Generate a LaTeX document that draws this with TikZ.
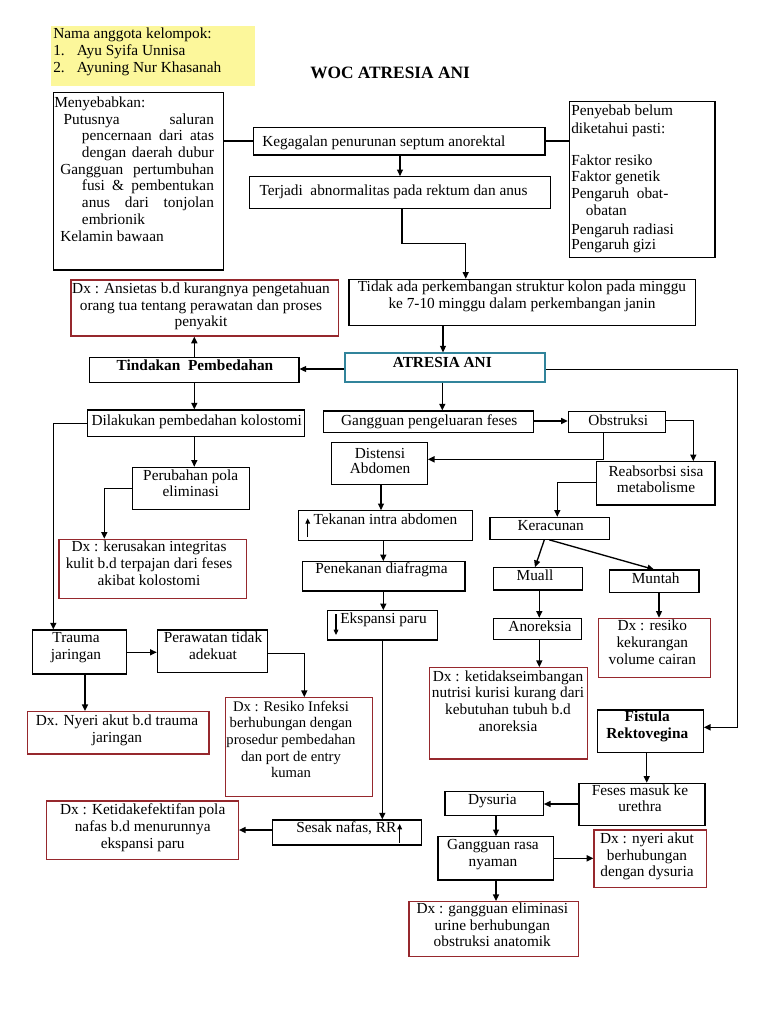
\documentclass[tikz,border=0pt]{standalone}
\usepackage{fontspec}
\setmainfont{Liberation Serif}
\usetikzlibrary{arrows.meta,fit}
\definecolor{yel}{RGB}{252,247,155}
\definecolor{atrteal}{RGB}{49,132,155}
\definecolor{dxred}{RGB}{150,40,45}
\newcommand\tx{\fontsize{11.5}{12.5}\selectfont}
\begin{document}
\begin{tikzpicture}[x=0.75pt,y=-0.75pt,
  bx/.style={draw=black, line width=0.8pt, inner sep=0pt, rectangle},
  dxbx/.style={draw=dxred, line width=0.9pt, inner sep=0pt, rectangle},
  tt/.style={anchor=base, inner sep=0pt, align=center, font=\tx},
  ln/.style={anchor=base west, inner sep=0pt, font=\tx},
  conn/.style={line width=1pt},
  arr/.style={line width=1pt, -{Triangle[length=5pt,width=4.5pt]}},
  mini/.style={line width=0.8pt, -{Triangle[length=4pt,width=3.5pt]}}
]
\fill[white] (0,0) rectangle (768,1024);

% header
\node[fill=yel, inner sep=0pt, fit={(50.7,26)(255,86)}] (yel) {};
\node[ln] (nama) at (53,38.3) {Nama anggota kelompok:};
\node[ln] (m1) at (53,55.7) {\makebox[17.8pt][l]{1.}Ayu Syifa Unnisa};
\node[ln] (m2) at (53,72.3) {\makebox[17.8pt][l]{2.}Ayuning Nur Khasanah};
\node[anchor=base west, inner sep=0pt, font=\fontsize{13}{15}\selectfont\bfseries] (title) at (310,78.5) {WOC ATRESIA ANI};

% Menyebabkan box
\node[bx, fit={(53.3,92.7)(223.3,270)}] (sebab) {};
\node[ln] (s1) at (54,107.3) {Menyebabkan:};
\node[ln] (s2) at (63.3,124.3) {\makebox[112.8pt][s]{Putusnya saluran}};
\node[ln] (s3) at (81.7,140.7) {\makebox[99pt][s]{pencernaan dari atas}};
\node[ln] (s4) at (81.7,157.7) {\makebox[99pt][s]{dengan daerah dubur}};
\node[ln] (s5) at (60,174.3) {\makebox[115.3pt][s]{Gangguan pertumbuhan}};
\node[ln] (s6) at (81.7,190.7) {\makebox[99pt][s]{fusi \& pembentukan}};
\node[ln] (s7) at (81.7,207.3) {\makebox[99pt][s]{anus dari tonjolan}};
\node[ln] (s8) at (81.7,224) {embrionik};
\node[ln] (s9) at (60,241.7) {Kelamin bawaan};

% Penyebab box
\node[bx, fit={(569.7,101.7)(715,257.3)}] (peny) {};
\node[ln] (p1) at (571,115) {Penyebab belum};
\node[ln] (p2) at (571,133.3) {diketahui pasti:};
\node[ln] (p3) at (571,165) {Faktor resiko};
\node[ln] (p4) at (571,181.7) {Faktor genetik};
\node[ln] (p5) at (571,198.3) {Pengaruh\ \ obat-};
\node[ln] (p6) at (585.7,215) {obatan};
\node[ln] (p7) at (571,234.5) {Pengaruh radiasi};
\node[ln] (p8) at (571,249.5) {Pengaruh gizi};

% top chain
\node[bx, fit={(253.3,127.3)(545,155)}] (keg) {};
\node[ln] (keg-t) at (262,146) {Kegagalan penurunan septum anorektal};
\node[bx, fit={(249.3,176.7)(550.7,208.3)}] (terj) {};
\node[ln] (terj-t) at (259.3,195) {Terjadi\ \ abnormalitas pada rektum dan anus};
\node[bx, fit={(349,279.3)(695.7,325.5)}] (tidak) {};
\node[tt] (tidak-t) at (522,308.3) {Tidak ada perkembangan struktur kolon pada minggu\\ke 7-10 minggu dalam perkembangan janin};
\node[dxbx, fit={(71,280)(338.3,336)}] (dxans) {};
\node[tt] (dxans-t) at (201,326.7) {Dx : Ansietas b.d kurangnya pengetahuan\\orang tua tentang perawatan dan proses\\penyakit};

\node[draw=atrteal, line width=1.3pt, inner sep=0pt, fit={(345,353.3)(545,381.7)}] (atr) {};
\node[tt, font=\tx\bfseries] (atr-t) at (442.3,367.3) {ATRESIA ANI};
\node[bx, fit={(89.3,357.3)(299,382.3)}] (tind) {};
\node[tt, font=\tx\bfseries] (tind-t) at (195,370.7) {Tindakan\ \ Pembedahan};

% left branch
\node[bx, fit={(87.3,410)(304.3,436.7)}] (dilak) {};
\node[tt] (dilak-t) at (196.7,425) {Dilakukan pembedahan kolostomi};
\node[bx, fit={(132.3,467.3)(249.3,509.3)}] (perub) {};
\node[tt] (perub-t) at (190.7,496.7) {Perubahan pola\\eliminasi};
\node[dxbx, fit={(59,539.3)(246.7,598.3)}] (dxker) {};
\node[tt] (dxker-t) at (149,585) {Dx : kerusakan integritas\\kulit b.d terpajan dari feses\\akibat kolostomi};
\node[bx, fit={(32.3,630)(126.7,674)}] (trauma) {};
\node[tt] (trauma-t) at (76,659.3) {Trauma\\jaringan};
\node[bx, fit={(157.3,630)(267.7,672.7)}] (peraw) {};
\node[tt] (peraw-t) at (213,659.3) {Perawatan tidak\\adekuat};
\node[dxbx, fit={(27.7,711.7)(209,754)}] (dxnyeri) {};
\node[tt] (dxnyeri-t) at (117,742) {Dx. Nyeri akut b.d trauma\\jaringan};
\node[dxbx, fit={(225.7,697.7)(372.3,796.7)}] (dxinf) {};
\node[tt, font=\fontsize{11}{12.5}\selectfont] (dxinf-t) at (291,777.7) {Dx : Resiko Infeksi\\berhubungan dengan\\prosedur pembedahan\\dan port de entry\\kuman};
\node[dxbx, fit={(46.7,801)(238.3,859.3)}] (dxket) {};
\node[tt] (dxket-t) at (142.7,848.3) {Dx : Ketidakefektifan pola\\nafas b.d menurunnya\\ekspansi paru};

% middle column
\node[bx, fit={(323.3,411)(533.3,432.3)}] (gpf) {};
\node[tt] (gpf-t) at (429.3,425) {Gangguan pengeluaran feses};
\node[bx, fit={(331.7,442.3)(427.3,484.3)}] (dist) {};
\node[tt] (dist-t) at (380,473) {Distensi\\[-1.5pt]Abdomen};
\node[bx, fit={(298.3,510.7)(472.3,540.7)}] (tek) {};
\node[ln] (tek-t) at (313.3,524) {Tekanan intra abdomen};
\draw[mini] (307.7,536.7) -- (307.7,518.3);
\node[bx, fit={(302.3,561.7)(465,591)}] (pen) {};
\node[tt] (pen-t) at (381.5,573.3) {Penekanan diafragma};
\node[bx, fit={(327.3,610.7)(437.7,640)}] (eks) {};
\node[ln] (eks-t) at (340,623.3) {Ekspansi paru};
\draw[mini] (336,614) -- (336,635);
\node[bx, fit={(272.7,820)(421.7,845)}] (sesak) {};
\node[ln] (sesak-t) at (296,832.3) {Sesak nafas, RR};
\draw[mini] (399.7,842.7) -- (399.7,824);

% right column
\node[bx, fit={(568.3,411.7)(665.7,432.3)}] (obs) {};
\node[tt] (obs-t) at (618.3,425) {Obstruksi};
\node[bx, fit={(596.3,461.7)(715,505)}] (reab) {};
\node[tt] (reab-t) at (656,492.7) {Reabsorbsi sisa\\metabolisme};
\node[bx, fit={(490,517.3)(609.7,539.3)}] (rac) {};
\node[tt] (rac-t) at (550.7,530) {Keracunan};
\node[bx, fit={(493.3,567.7)(582.3,590)}] (muall) {};
\node[tt] (muall-t) at (535,580.7) {Muall};
\node[bx, fit={(609.7,570)(699,592.3)}] (muntah) {};
\node[tt] (muntah-t) at (655.7,583.3) {Muntah};
\node[bx, fit={(493.3,618.3)(581.7,639.3)}] (anor) {};
\node[tt] (anor-t) at (540,631.5) {Anoreksia};
\node[dxbx, fit={(429.7,667.7)(587.3,759)}] (dxnut) {};
\node[tt] (dxnut-t) at (508,731) {Dx : ketidakseimbangan\\nutrisi kurisi kurang dari\\kebutuhan tubuh b.d\\anoreksia};
\node[dxbx, fit={(598.3,618.3)(710.7,677.7)}] (dxvol) {};
\node[tt] (dxvol-t) at (652.3,664) {Dx : resiko\\kekurangan\\volume cairan};
\node[bx, fit={(597.3,710)(703.3,752.3)}] (fist) {};
\node[tt, font=\tx\bfseries] (fist-t) at (647.3,738.3) {Fistula\\Rektovegina};
\node[bx, fit={(579,783.3)(705,825.7)}] (feses) {};
\node[tt] (feses-t) at (640,811.7) {Feses masuk ke\\urethra};
\node[bx, fit={(445,791.7)(543.3,815.7)}] (dys) {};
\node[tt] (dys-t) at (492.3,804) {Dysuria};
\node[bx, fit={(438,836.7)(553.3,880)}] (grn) {};
\node[tt] (grn-t) at (493,866) {Gangguan rasa\\nyaman};
\node[dxbx, fit={(594,830)(706.7,887.7)}] (dxdys) {};
\node[tt] (dxdys-t) at (647,876.7) {Dx : nyeri akut\\berhubungan\\dengan dysuria};
\node[dxbx, fit={(409,901.7)(578.3,956.7)}] (dxelim) {};
\node[tt] (dxelim-t) at (492.3,946.7) {Dx : gangguan eliminasi\\urine berhubungan\\obstruksi anatomik};

% connectors
\draw[conn] (keg.west -| sebab.east) -- (keg.west);
\draw[conn] (keg.east) -- (keg.east -| peny.west);
\draw[arr] (400,0 |- keg.south) -- (400,0 |- terj.north);
\draw[arr] (402,0 |- terj.south) -- (402,243.3) -| (465.7,0 |- tidak.north);
\draw[arr] (443,0 |- tidak.south) -- (443,0 |- atr.north);
\draw[arr] (atr.west |- 0,369) -- (tind.east |- 0,369);
\draw[arr] (194.3,0 |- tind.north) -- (194.3,0 |- dxans.south);
\draw[arr] (194.3,0 |- tind.south) -- (194.3,0 |- dilak.north);
\draw[arr] (194.3,0 |- dilak.south) -- (194.3,0 |- perub.north);
\draw[arr] (perub.west |- 0,488.3) -| (104.3,0 |- dxker.north);
\draw[arr] (dilak.west |- 0,423.3) -| (53.3,0 |- trauma.north);
\draw[arr] (trauma.east |- 0,652.3) -- (peraw.west |- 0,652.3);
\draw[arr] (peraw.east |- 0,653.3) -| (304.3,0 |- dxinf.north);
\draw[arr] (85,0 |- trauma.south) -- (85,0 |- dxnyeri.north);
\draw[arr] (442.3,0 |- atr.south) -- (442.3,0 |- gpf.north);
\draw[arr] (atr.east |- 0,369.3) -| (737.3,727.3) -- (fist.east |- 0,727.3);
\draw[arr] (gpf.east |- 0,421) -- (obs.west |- 0,421);
\draw[arr] (603.3,0 |- obs.south) |- (dist.east |- 0,459.3);
\draw[arr] (obs.east |- 0,420.7) -| (693.3,0 |- reab.north);
\draw[arr] (381,0 |- dist.south) -- (381,0 |- tek.north);
\draw[arr] (383.3,0 |- tek.south) -- (383.3,0 |- pen.north);
\draw[arr] (383.3,0 |- pen.south) -- (383.3,0 |- eks.north);
\draw[arr] (382.3,0 |- eks.south) -- (382.3,0 |- sesak.north);
\draw[arr] (sesak.west |- 0,830) -- (dxket.east |- 0,830);
\draw[arr] (reab.west |- 0,482.3) -| (557.3,0 |- rac.north);
\draw[arr] (544.3,0 |- rac.south) -- (535,0 |- muall.north);
\draw[arr] (549.3,0 |- rac.south) -- (654,0 |- muntah.north);
\draw[arr] (539.3,0 |- muall.south) -- (539.3,0 |- anor.north);
\draw[arr] (539.3,0 |- anor.south) -- (539.3,0 |- dxnut.north);
\draw[arr] (659,0 |- muntah.south) -- (659,0 |- dxvol.north);
\draw[arr] (646.7,0 |- fist.south) -- (646.7,0 |- feses.north);
\draw[arr] (feses.west |- 0,804) -- (dys.east |- 0,804);
\draw[arr] (496,0 |- dys.south) -- (496,0 |- grn.north);
\draw[arr] (grn.east |- 0,858.3) -- (dxdys.west |- 0,858.3);
\draw[arr] (496,0 |- grn.south) -- (496,0 |- dxelim.north);
\end{tikzpicture}
\end{document}
